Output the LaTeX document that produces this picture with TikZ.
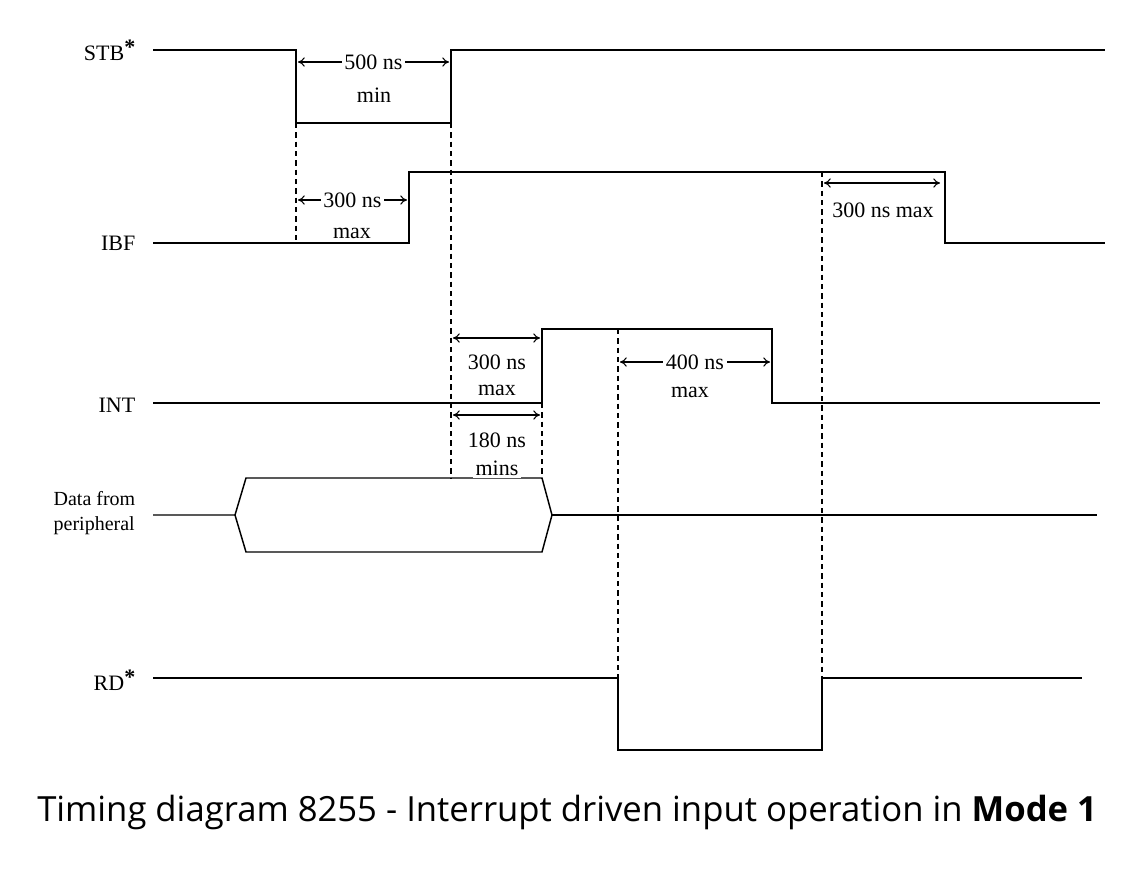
\documentclass[tikz,border=0pt]{standalone}
\usepackage{fontspec}
\setmainfont{Liberation Serif}
\newfontfamily\capfont{Open Sans}
\usetikzlibrary{arrows.meta}
\begin{document}
\begin{tikzpicture}[x=0.75pt,y=-0.75pt,
  wave/.style={line width=1.1pt, line join=miter},
  guide/.style={dash pattern=on 4pt off 3pt, line width=0.9pt},
  span/.style={{To[length=5pt,width=7pt]}-{To[length=5pt,width=7pt]}, line width=0.8pt},
  lbl/.style={font=\fontsize{16.5}{18}\selectfont, fill=white, inner sep=2pt},
  sig/.style={font=\fontsize{16.5}{18}\selectfont, anchor=east, align=left}]
\useasboundingbox (0,0) rectangle (1140,869);

% signal names
\node[sig] (stb) at (140,50) {STB\raisebox{0.6ex}{\textbf{*}}};
\node[sig] (ibf) at (140,243) {IBF};
\node[sig] (int) at (140,405) {INT};
\node[sig, font=\fontsize{15}{19}\selectfont] (data) at (140,513) {Data from\\peripheral};
\node[sig] (rd) at (140,680) {RD\raisebox{0.6ex}{\textbf{*}}};

% waveforms
\draw[wave] (153,50) -- (296,50) -- (296,123) -- (451,123) -- (451,50) -- (1105,50);
\draw[wave] (153,243) -- (409,243) -- (409,172) -- (945,172) -- (945,243) -- (1105,243);
\draw[wave] (153,403) -- (542,403) -- (542,329) -- (772,329) -- (772,403) -- (1100,403);
\draw[wave] (153,515) -- (235,515) -- (246,478) -- (542,478) -- (552,515) -- (542,552)
  -- (246,552) -- (235,515);
\draw[wave] (552,515) -- (1097,515);
\draw[wave] (153,678) -- (618,678) -- (618,750) -- (822,750) -- (822,678) -- (1082,678);

% guides
\draw[guide] (296,123) -- (296,243);
\draw[guide] (451,123) -- (451,478);
\draw[guide] (542,403) -- (542,478);
\draw[guide] (618,329) -- (618,678);
\draw[guide] (822,172) -- (822,678);

% timing spans
\draw[span] (298,62) -- (449,62) node[lbl, midway] {500 ns};
\node[lbl] at (374,95) {min};
\draw[span] (298,200) -- (407,200) node[lbl, midway] {300 ns};
\node[lbl] at (352,233) {max};
\draw[span] (824,183) -- (940,183);
\node[lbl] at (883,210) {300 ns max};
\draw[span] (453,338) -- (540,338);
\node[lbl] at (497,362) {300 ns};
\node[lbl] at (497,390) {max};
\draw[span] (453,415) -- (540,415);
\node[lbl] at (497,440) {180 ns};
\node[lbl] at (497,468) {mins};
\draw[span] (620,362) -- (770,362) node[lbl, midway] {400 ns};
\node[lbl] at (690,392) {max};

% caption
\node[font=\capfont\fontsize{26}{30}\selectfont, anchor=west, inner sep=0pt] (cap) at (37,812)
  {Timing diagram 8255 - Interrupt driven input operation in \textbf{Mode 1}};
\end{tikzpicture}
\end{document}
